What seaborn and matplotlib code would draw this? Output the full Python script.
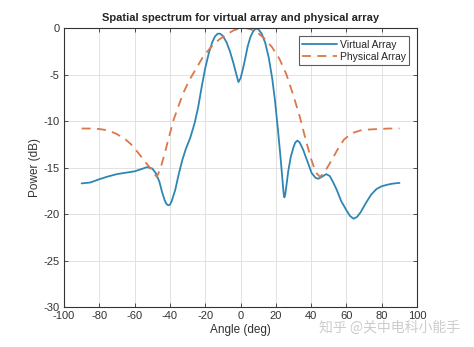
import matplotlib
matplotlib.use("Agg")
import matplotlib.pyplot as plt
import seaborn as sns
import pandas as pd

# Virtual array (angle deg, power dB)
virt_angle = [-90, -85, -80, -75, -70, -65, -60, -56, -53, -50, -48, -46, -44.5, -43, -42, -41, -40, -39, -37, -35,
              -33, -31, -28.5, -26, -24, -22, -20, -18, -16, -14.5, -13, -11.5, -10, -8, -6, -4, -2.5, -1.2, 0, 1.2,
              2.5, 4, 5.5, 7, 8.5, 10, 12, 14, 16, 18, 19.5, 21, 22.5, 23.5, 24.3, 24.8, 25.3, 26, 27, 28.5, 30, 31,
              32.2, 33.5, 35.5, 38, 40.3, 42.5, 44, 46, 48.5, 50.5, 52.5, 54.5, 57, 60, 62, 64, 66, 68, 71, 74, 77,
              80, 84, 87, 90]
virt_db = [-16.7, -16.6, -16.25, -15.95, -15.7, -15.55, -15.4, -15.15, -14.95, -15.1, -15.6, -16.5, -17.6, -18.5,
           -18.9, -19.05, -19.0, -18.6, -17.4, -15.7, -14.2, -13.0, -11.8, -10.2, -8.5, -6.3, -4.3, -2.7, -1.5, -0.9,
           -0.6, -0.6, -0.85, -1.5, -2.5, -3.8, -4.9, -5.8, -5.4, -4.5, -3.4, -2.0, -1.0, -0.4, -0.05, -0.1, -0.6,
           -1.6, -3.2, -5.5, -7.8, -10.6, -13.6, -15.8, -17.6, -18.2, -17.9, -16.9, -15.4, -13.8, -12.8, -12.3, -12.1,
           -12.3, -13.1, -14.4, -15.6, -16.1, -16.2, -16.0, -15.7, -15.9, -16.6, -17.4, -18.6, -19.6, -20.2, -20.5,
           -20.3, -19.8, -18.8, -17.9, -17.3, -17.0, -16.8, -16.7, -16.65]

# Physical array
phys_angle = [-90, -85, -80, -75, -70, -65, -62, -58, -54, -50, -47.5, -45.5, -43, -40.5, -38, -35, -32.5, -29,
              -25, -21, -16.5, -12, -8, -4, 0, 3, 6, 10, 14, 18, 22, 26, 30, 33.5, 36.5, 39.5, 42.5, 45, 47.5, 51,
              54.5, 58.5, 63, 68, 73, 78, 84, 90]
phys_db = [-10.8, -10.8, -10.85, -11.0, -11.4, -12.0, -12.5, -13.4, -14.4, -15.3, -16.0, -15.2, -13.5, -11.7,
           -9.9, -8.3, -7.0, -5.6, -4.3, -3.0, -2.0, -1.2, -0.7, -0.25, 0.0, 0.0, -0.15, -0.55, -1.2, -2.1, -3.3,
           -5.0, -7.3, -9.5, -11.7, -13.8, -15.5, -16.0, -15.5, -14.4, -13.2, -12.0, -11.3, -11.0, -10.9, -10.85,
           -10.8, -10.8]

x_ticks = [-100, -80, -60, -40, -20, 0, 20, 40, 60, 80, 100]
y_ticks = [-30, -25, -20, -15, -10, -5, 0]

sns.set_theme(style="whitegrid")
plt.rcParams['font.family'] = ['Liberation Sans', 'DejaVu Sans']
plt.rcParams['axes.unicode_minus'] = False

df_v = pd.DataFrame({"angle": virt_angle, "db": virt_db})
df_p = pd.DataFrame({"angle": phys_angle, "db": phys_db})

fig = plt.figure(figsize=(4.74, 3.47), dpi=100)
ax = fig.add_axes([0.135, 0.115, 0.745, 0.804])

sns.lineplot(data=df_v, x="angle", y="db", ax=ax, color="#2f86b3", lw=1.3, label="Virtual Array", sort=False)
sns.lineplot(data=df_p, x="angle", y="db", ax=ax, color="#d9784a", lw=1.3,
             label="Physical Array", sort=False)
ax.lines[1].set_dashes([5, 3.5])

ax.set_xlim(-100, 100)
ax.set_ylim(-30, 0)
ax.set_xticks(x_ticks)
ax.set_yticks(y_ticks)
ax.set_facecolor("white")
ax.grid(True, color="#dddddd", lw=0.6)
for s in ax.spines.values():
    s.set_color("#333333")
    s.set_linewidth(0.8)
ax.tick_params(direction="in", length=3, width=0.6, color="#333333", labelsize=8, top=True, right=True,
               labelcolor="#333333", pad=3)
ax.tick_params(axis="x", bottom=True, top=True)
ax.tick_params(axis="y", left=True, right=True)
ax.set_xlabel("Angle (deg)", fontsize=8.5, color="#333333", labelpad=2)
ax.set_ylabel("Power (dB)", fontsize=8.5, color="#333333", labelpad=2)
ax.set_title("Spatial spectrum for virtual array and physical array", fontsize=8, fontweight="bold", pad=5)

leg = ax.legend(loc="upper right", fontsize=7.5, frameon=True, fancybox=False, handlelength=3.3,
                borderpad=0.3, labelspacing=0.2, handletextpad=0.3, borderaxespad=0.8)
leg.get_frame().set_edgecolor("#333333")
leg.get_frame().set_linewidth(0.8)
leg.get_lines()[1].set_dashes([5, 3.5])

fig.text(0.97, 0.055, "知乎 @关中电科小能手", fontsize=10, color="#cccccc", ha="right", va="center",
         family=["Noto Sans CJK SC", "DejaVu Sans"])

fig.savefig("out.png", dpi=100, facecolor="white")
